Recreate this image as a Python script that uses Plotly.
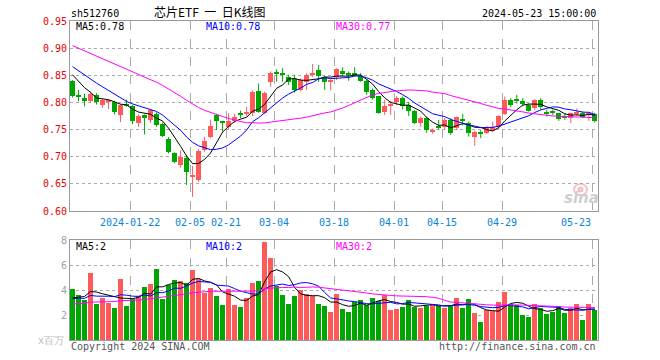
import plotly.graph_objects as go

# ---------------- data ----------------
open_ = [0.840, 0.814, 0.808, 0.802, 0.813, 0.795, 0.801, 0.801, 0.776, 0.795,
         0.793, 0.763, 0.776, 0.768, 0.779, 0.760, 0.733, 0.706, 0.685, 0.697,
         0.662, 0.657, 0.712, 0.736, 0.777, 0.765, 0.754, 0.765, 0.780, 0.778,
         0.780, 0.821, 0.781, 0.838, 0.855, 0.855, 0.846, 0.844, 0.823, 0.838,
         0.851, 0.859, 0.846, 0.838, 0.846, 0.858, 0.852, 0.855, 0.849, 0.840,
         0.822, 0.811, 0.782, 0.795, 0.800, 0.809, 0.795, 0.784, 0.763, 0.771,
         0.746, 0.755, 0.755, 0.768, 0.752, 0.769, 0.762, 0.737, 0.744, 0.744,
         0.749, 0.754, 0.779, 0.805, 0.806, 0.803, 0.795, 0.789, 0.805, 0.782,
         0.782, 0.780, 0.775, 0.771, 0.780, 0.781, 0.777, 0.779]
high = [0.841, 0.823, 0.816, 0.819, 0.817, 0.808, 0.806, 0.803, 0.797, 0.805,
        0.795, 0.778, 0.778, 0.788, 0.782, 0.763, 0.736, 0.708, 0.712, 0.703,
        0.683, 0.714, 0.737, 0.768, 0.779, 0.766, 0.780, 0.779, 0.785, 0.792,
        0.822, 0.835, 0.820, 0.857, 0.861, 0.863, 0.851, 0.851, 0.844, 0.854,
        0.871, 0.869, 0.849, 0.843, 0.863, 0.865, 0.857, 0.865, 0.854, 0.843,
        0.826, 0.812, 0.805, 0.803, 0.812, 0.811, 0.801, 0.786, 0.774, 0.774,
        0.752, 0.768, 0.771, 0.771, 0.774, 0.779, 0.765, 0.748, 0.749, 0.757,
        0.765, 0.777, 0.811, 0.808, 0.814, 0.808, 0.798, 0.806, 0.808, 0.787,
        0.787, 0.781, 0.780, 0.781, 0.789, 0.783, 0.783, 0.781]
low = [0.809, 0.802, 0.793, 0.799, 0.796, 0.790, 0.788, 0.778, 0.764, 0.792,
       0.760, 0.755, 0.741, 0.762, 0.755, 0.736, 0.706, 0.688, 0.680, 0.648,
       0.626, 0.654, 0.709, 0.734, 0.749, 0.746, 0.751, 0.762, 0.771, 0.774,
       0.775, 0.781, 0.779, 0.829, 0.838, 0.838, 0.832, 0.818, 0.820, 0.823,
       0.847, 0.838, 0.823, 0.822, 0.841, 0.848, 0.840, 0.848, 0.838, 0.814,
       0.805, 0.779, 0.777, 0.777, 0.795, 0.787, 0.775, 0.760, 0.755, 0.744,
       0.742, 0.749, 0.750, 0.740, 0.749, 0.758, 0.737, 0.720, 0.734, 0.742,
       0.746, 0.750, 0.777, 0.791, 0.798, 0.793, 0.783, 0.786, 0.787, 0.774,
       0.777, 0.766, 0.768, 0.762, 0.775, 0.771, 0.766, 0.763]
close = [0.812, 0.811, 0.802, 0.816, 0.800, 0.804, 0.803, 0.782, 0.795, 0.794,
         0.765, 0.775, 0.771, 0.786, 0.759, 0.738, 0.709, 0.691, 0.699, 0.671,
         0.666, 0.711, 0.729, 0.757, 0.766, 0.763, 0.765, 0.774, 0.778, 0.783,
         0.820, 0.783, 0.818, 0.855, 0.854, 0.851, 0.838, 0.822, 0.841, 0.851,
         0.855, 0.849, 0.838, 0.840, 0.861, 0.852, 0.851, 0.849, 0.840, 0.820,
         0.809, 0.781, 0.793, 0.797, 0.809, 0.793, 0.784, 0.763, 0.771, 0.750,
         0.750, 0.754, 0.768, 0.744, 0.773, 0.766, 0.743, 0.745, 0.743, 0.752,
         0.754, 0.775, 0.805, 0.795, 0.803, 0.797, 0.785, 0.805, 0.792, 0.780,
         0.781, 0.769, 0.773, 0.780, 0.783, 0.774, 0.780, 0.766]
volume = [4.10, 3.57, 3.23, 5.39, 2.90, 3.40, 3.00, 2.60, 4.90, 2.75,
          3.30, 3.50, 4.27, 4.50, 5.70, 3.30, 4.43, 4.83, 4.75, 4.60,
          5.63, 4.85, 3.80, 4.20, 3.55, 2.83, 4.10, 2.83, 2.67, 3.39,
          4.59, 4.75, 7.87, 6.59, 4.35, 3.63, 2.90, 3.55, 4.03, 3.70,
          3.55, 2.90, 2.75, 2.27, 3.70, 2.50, 2.27, 3.07, 3.23, 2.83,
          3.39, 3.15, 3.57, 2.43, 2.50, 2.67, 3.23, 2.67, 2.59, 2.75,
          2.90, 2.75, 2.59, 2.75, 3.39, 2.59, 3.31, 2.19, 1.47, 2.43,
          2.35, 3.07, 3.87, 2.90, 2.83, 2.03, 1.87, 2.90, 2.59, 2.11,
          2.27, 2.75, 2.19, 2.59, 2.90, 1.63, 2.90, 2.43]
# closes / volumes of the 29 sessions before the first visible one (estimated
# from where the moving-average lines start)
prior_close = [0.955, 0.948, 0.952, 0.940, 0.945, 0.936, 0.942, 0.930, 0.925, 0.933,
               0.920, 0.928, 0.915, 0.921, 0.910, 0.902, 0.895, 0.900, 0.893, 0.890,
               0.890, 0.885, 0.878, 0.880, 0.872, 0.870, 0.862, 0.858, 0.853]
prior_volume = [2.5, 2.8, 2.4, 2.9, 2.6, 2.7, 2.3, 2.9, 2.8, 2.5,
                2.6, 3.0, 2.7, 2.4, 2.8, 2.6, 2.9, 2.5, 2.7, 2.8,
                3.1, 3.4, 3.0, 3.5, 3.2, 3.3, 2.9, 3.4, 3.1]
tick_labels = ["2024-01-22", "02-05", "02-21", "03-04", "03-18",
               "04-01", "04-15", "04-29", "05-23"]
tick_index = [10, 20, 26, 34, 44, 54, 62, 72, 87]
price_ticks = [0.60, 0.65, 0.70, 0.75, 0.80, 0.85, 0.90, 0.95]
vol_ticks = [2, 4, 6, 8]


def moving_average(series, prior, n):
    full = list(prior) + list(series)
    off = len(prior)
    return [sum(full[off + i - n + 1: off + i + 1]) / n for i in range(len(series))]


N = len(close)
xs = list(range(N))
RED = "#ff5a5a"
GREEN = "#00a600"
MONO = "DejaVu Sans Mono"
is_up = [c >= o for o, c in zip(open_, close)]
colors = [RED if u else GREEN for u in is_up]

fig = go.Figure()

# wicks
for col, flag in ((RED, True), (GREEN, False)):
    wx, wy = [], []
    for i in xs:
        if is_up[i] == flag:
            wx += [i, i, None]
            wy += [low[i], high[i], None]
    fig.add_trace(go.Scatter(x=wx, y=wy, mode="lines", line=dict(color=col, width=1),
                             xaxis="x", yaxis="y", hoverinfo="skip"))

# bodies
fig.add_trace(go.Bar(x=xs, base=[min(o, c) for o, c in zip(open_, close)],
                     y=[max(abs(c - o), 0.0019) for o, c in zip(open_, close)],
                     width=0.83, marker=dict(color=colors, line=dict(width=0)),
                     xaxis="x", yaxis="y"))

# price moving averages
for n, col in ((5, "black"), (10, "#0000ff"), (30, "#ff00ff")):
    fig.add_trace(go.Scatter(x=xs, y=moving_average(close, prior_close, n), mode="lines",
                             line=dict(color=col, width=1), xaxis="x", yaxis="y",
                             hoverinfo="skip"))

# volume bars
fig.add_trace(go.Bar(x=xs, y=volume, width=0.83,
                     marker=dict(color=colors, line=dict(width=0)),
                     xaxis="x2", yaxis="y2"))
for n, col in ((5, "black"), (10, "#0000ff"), (30, "#ff00ff")):
    fig.add_trace(go.Scatter(x=xs, y=moving_average(volume, prior_volume, n), mode="lines",
                             line=dict(color=col, width=1), xaxis="x2", yaxis="y2",
                             hoverinfo="skip"))

L, R, T, B = 70, 62, 21, 20
W, H = 660, 360
PW, PH = W - L - R, H - T - B


def px_x(px):
    return (px - L) / PW


def px_y(py):
    return (H - B - py) / PH


xr = [-0.417, 87.53]
grid_x = [i - 0.42 for i in tick_index]
common_x = dict(range=xr, tickvals=grid_x, showticklabels=False, showgrid=True,
                gridcolor="#aaaaaa", griddash="dash", gridwidth=1, showline=True,
                mirror=True, linecolor="#999999", linewidth=1, zeroline=False, ticks="",
                fixedrange=True)

fig.update_layout(
    width=W, height=H, margin=dict(l=L, r=R, t=T, b=B),
    paper_bgcolor="white", plot_bgcolor="white", showlegend=False, bargap=0,
    xaxis=dict(domain=[0, 1], anchor="y", **common_x),
    xaxis2=dict(domain=[0, 1], anchor="y2", **common_x),
    yaxis=dict(domain=[px_y(211), 1], range=[0.60, 0.95], tickvals=price_ticks,
               ticktext=["%.2f" % v for v in price_ticks],
               tickfont=dict(family=MONO, size=10, color="#e80000"),
               showgrid=True, gridcolor="#aaaaaa", griddash="dot", gridwidth=1,
               showline=True, mirror=True, linecolor="#999999", zeroline=False, ticks="",
               fixedrange=True),
    yaxis2=dict(domain=[0, px_y(240)], range=[0, 8], tickvals=vol_ticks,
                ticktext=[str(v) for v in vol_ticks],
                tickfont=dict(family=MONO, size=10, color="#a0a0a0"),
                showgrid=True, gridcolor="#aaaaaa", griddash="dot", gridwidth=1,
                showline=True, mirror=True, linecolor="#999999", zeroline=False, ticks="",
                fixedrange=True),
)


def ann(text, px, py, xanchor="left", color="black", size=10, family=MONO, **kw):
    fig.add_annotation(text=text, x=px_x(px), y=px_y(py), xref="paper", yref="paper",
                       xanchor=xanchor, yanchor="middle", showarrow=False,
                       font=dict(family=family, size=size, color=color), **kw)


ann("sh512760", 69, 13)
ann("芯片ETF\u00a0\u00a0一\u00a0\u00a0日K线图", 209, 12, xanchor="center", size=12,
    family="Noto Sans CJK SC")
ann("2024-05-23 15:00:00", 598, 13, xanchor="right")
ann("MA5:0.78", 74, 27)
ann("MA10:0.78", 204, 27, color="#0000ff")
ann("MA30:0.77", 334, 27, color="#ff00ff")
ann("MA5:2", 74, 247)
ann("MA10:2", 204, 247, color="#0000ff")
ann("MA30:2", 334, 247, color="#ff00ff")
ann("x百万", 66, 341, xanchor="right", color="#bbbbbb", size=10)
ann("Copyright 2024 SINA.COM", 69, 346, color="#555555")
ann("http://finance.sina.com.cn", 598, 346, xanchor="right", color="#555555")
ann("<b><i>sina</i></b>", 581, 198, xanchor="center", color="#cfcfcf", size=15,
    family="DejaVu Sans")

# sina eye logo (watermark)
fig.add_shape(type="circle", xref="paper", yref="paper",
              x0=px_x(574), x1=px_x(587), y0=px_y(195), y1=px_y(184),
              line=dict(color="#f2c4c4", width=2), fillcolor="rgba(0,0,0,0)", layer="below")
fig.add_shape(type="circle", xref="paper", yref="paper",
              x0=px_x(578), x1=px_x(583), y0=px_y(192), y1=px_y(187),
              line=dict(color="#e8b0b0", width=1), fillcolor="#f2d0d0", layer="below")

# date labels
for i, (idx, lab) in enumerate(zip(tick_index, tick_labels)):
    last = i == len(tick_index) - 1
    fig.add_annotation(text=lab, x=idx - 0.42 + (0.1 if last else 0), y=px_y(222),
                       xref="x", yref="paper", xanchor="right" if last else "center",
                       yanchor="middle", showarrow=False,
                       font=dict(family=MONO, size=10, color="#0a84d8"))

fig.write_html("out.html", config={"displayModeBar": False},
               post_script="document.body.style.margin='0';document.body.style.padding='0';")
